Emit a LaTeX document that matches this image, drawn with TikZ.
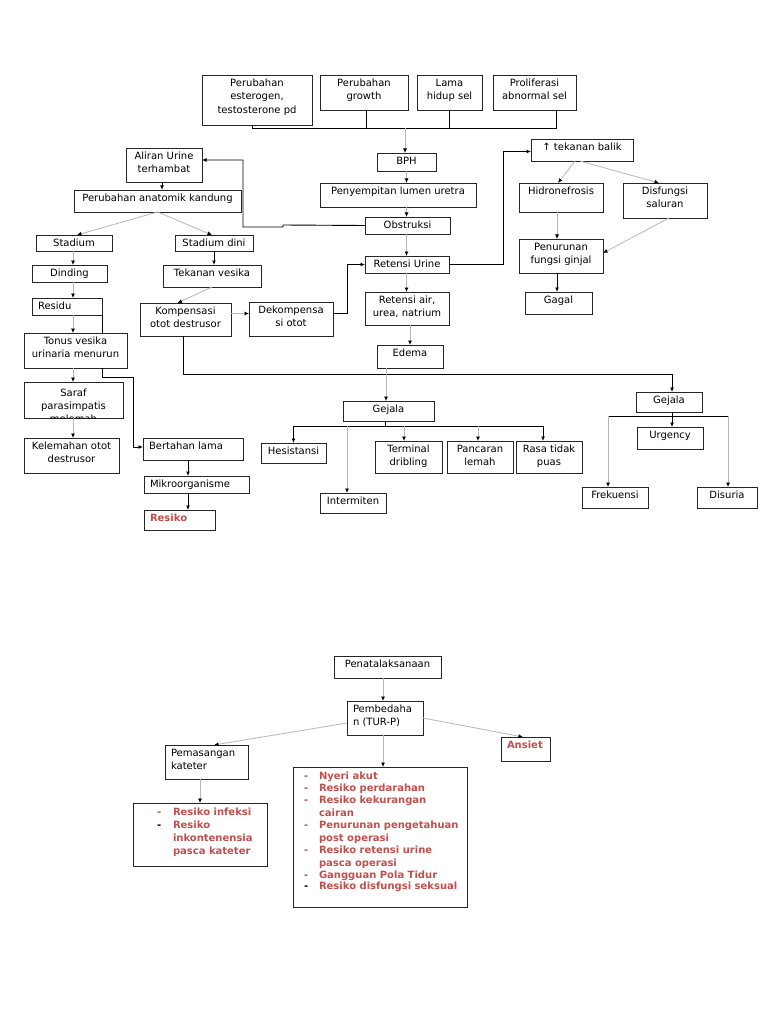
\documentclass[tikz,border=0pt]{standalone}
\usepackage{fontspec}
\setmainfont{DejaVu Sans}
\usetikzlibrary{arrows.meta}
\definecolor{rd}{HTML}{C0504D}
\tikzset{
 box/.style={draw=black!85, line width=0.8pt, inner sep=0pt, outer sep=0pt, fill=white},
 txt/.style={inner sep=0pt, outer sep=0pt, align=center, font=\fontsize{10}{13.3}\selectfont},
 txtl/.style={txt, align=left},
 blk/.style={draw=black, line width=0.9pt},
 gry/.style={draw=black!28, line width=0.8pt},
 arr/.style={-{Latex[length=4.5pt,width=4pt,color=black]}},
 listtxt/.style={inner sep=0pt, outer sep=0pt, align=left, font=\fontsize{10}{11.7}\selectfont\bfseries}
}
\newcommand\bx[6]{%
 \node[box, anchor=north west, minimum width={#4-#2}, minimum height={#5-#3}] (#1) at (#2,#3) {};
 \node[txt, anchor=north] (#1t) at ([yshift=-4pt]#1.north) {#6};}
\newcommand\bxl[6]{%
 \node[box, anchor=north west, minimum width={#4-#2}, minimum height={#5-#3}] (#1) at (#2,#3) {};
 \node[txtl, anchor=north west] (#1t) at ([xshift=6pt,yshift=-4pt]#1.north west) {#6};}
\begin{document}
\begin{tikzpicture}[x=1pt,y=-1pt]
\fill[white] (0,0) rectangle (768,1024);
\useasboundingbox (0,0) rectangle (768,1024);

% top causes
\bx{p1}{202}{75}{312}{125}{Perubahan\\esterogen,\\testosterone pd}
\bx{p2}{320}{75}{408}{110}{Perubahan\\growth}
\bx{p3}{417}{75}{482}{110}{Lama\\hidup sel}
\bx{p4}{493}{75}{576}{110}{Proliferasi\\abnormal sel}

% central column
\bx{bph}{377}{153}{436}{171}{BPH}
\bx{pen}{320}{183}{476}{207}{Penyempitan lumen uretra}
\bx{obs}{365}{217}{450}{234}{Obstruksi}
\bx{ret}{365}{256}{449}{273}{Retensi Urine}
\bx{rair}{365}{292}{449}{325}{Retensi air,\\urea, natrium}
\bx{ede}{377}{345}{443}{368}{Edema}

% left side
\bx{ali}{126}{148}{202}{182}{Aliran Urine\\terhambat}
\bx{ana}{74}{190}{241}{212}{Perubahan anatomik kandung}
\bx{sta}{36}{235}{112}{251}{Stadium}
\bx{sdi}{175}{235}{253}{251}{Stadium dini}
\bx{din}{32}{265}{107}{282}{Dinding}
\bx{tek}{163}{265}{261}{287}{Tekanan vesika}
\bxl{res}{32}{298}{102}{315}{Residu}
\bx{ton}{24}{333}{127}{368}{Tonus vesika\\urinaria menurun}
\node[box, anchor=north west, minimum width=99, minimum height=36] (sar) at (24,382) {};
\begin{scope}
\clip (sar.north west) rectangle (sar.south east);
\node[txt, anchor=north] (sart) at ([yshift=-6.5pt]sar.north) {Saraf\\parasimpatis\\melemah};
\end{scope}
\bx{kel}{24}{438}{119}{473}{Kelemahan otot\\destrusor}
\bx{kom}{140}{303}{231}{336}{Kompensasi\\otot destrusor}
\bx{dek}{249}{302}{333}{336}{Dekompensa\\si otot}
\bxl{ber}{143}{438}{243}{460}{Bertahan lama}
\bxl{mik}{144}{476}{249}{493}{Mikroorganisme}
\bxl{rsk}{144}{510}{215}{530}{{\color{rd}\bfseries Resiko}}

% right side
\bx{tb}{531}{139}{633}{161}{↑ tekanan balik}
\bx{hid}{519}{183}{603}{212}{Hidronefrosis}
\bx{dis}{623}{183}{707}{218}{Disfungsi\\saluran}
\bx{pfg}{519}{239}{603}{273}{Penurunan\\fungsi ginjal}
\bx{gag}{525}{292}{592}{314}{Gagal}

% symptoms
\bx{gj1}{343}{401}{434}{421}{Gejala}
\bx{hes}{261}{443}{326}{463}{Hesistansi}
\bx{int}{320}{493}{386}{513}{Intermiten}
\bx{ter}{375}{441}{442}{473}{Terminal\\dribling}
\bx{pan}{447}{441}{513}{473}{Pancaran\\lemah}
\bx{rasa}{516}{441}{582}{473}{Rasa tidak\\puas}
\bx{gj2}{636}{392}{702}{412}{Gejala}
\bx{urg}{637}{427}{703}{449}{Urgency}
\bx{fre}{582}{487}{648}{508}{Frekuensi}
\bx{dsu}{697}{487}{757}{508}{Disuria}

% management
\bx{pnt}{334}{656}{441}{678}{Penatalaksanaan}
\bxl{pmb}{347}{701}{423}{735}{Pembedaha\\n (TUR-P)}
\bxl{pms}{165}{745}{248}{779}{Pemasangan\\kateter}
\bxl{ans}{501}{737}{550}{761}{{\color{rd}\bfseries Ansiet}}
\node[box, anchor=north west, minimum width=174, minimum height=140] (big) at (293,767) {};
\node[box, anchor=north west, minimum width=134, minimum height=63] (sml) at (133,803) {};
\node[listtxt, font=\fontsize{10}{13}\selectfont\bfseries, anchor=north west] (smlt) at (157,808) {%
\makebox[16pt][l]{\color{rd}-}{\color{rd}Resiko infeksi}\\
\makebox[16pt][l]{-}{\color{rd}Resiko}\\
\hspace*{16pt}{\color{rd}inkontenensia}\\
\hspace*{16pt}{\color{rd}pasca kateter}};
\node[listtxt, anchor=north west] (bigt) at (304,772) {%
\makebox[15pt][l]{\color{rd}-}{\color{rd}Nyeri akut}\\
\makebox[15pt][l]{\color{rd}-}{\color{rd}Resiko perdarahan}\\
\makebox[15pt][l]{\color{rd}-}{\color{rd}Resiko kekurangan}\\[1.6pt]
\hspace*{15pt}{\color{rd}cairan}\\
\makebox[15pt][l]{\color{rd}-}{\color{rd}Penurunan pengetahuan}\\[1.6pt]
\hspace*{15pt}{\color{rd}post operasi}\\
\makebox[15pt][l]{\color{rd}-}{\color{rd}Resiko retensi urine}\\[1.6pt]
\hspace*{15pt}{\color{rd}pasca operasi}\\
\makebox[15pt][l]{\color{rd}-}{\color{rd}Gangguan Pola Tidur}\\
\makebox[15pt][l]{-}{\color{rd}Resiko disfungsi seksual}};

% ---------- connectors ----------
\coordinate (bus1) at (405,128);
\draw[blk] ([xshift=-5pt]p1.south) |- (bus1);
\draw[blk] ([xshift=2pt]p2.south) |- (bus1);
\draw[blk] (p3.south) |- (bus1);
\draw[blk] ([xshift=22pt]p4.south) |- (bus1);
\draw[gry,arr] (bus1) -- (bus1 |- bph.north);

\draw[gry,arr] (bph.south) -- (bph.south |- pen.north);
\draw[gry,arr] (bph.south |- pen.south) -- (bph.south |- obs.north);
\draw[gry,arr] (bph.south |- obs.south) -- (bph.south |- ret.north);
\draw[gry,arr] (bph.south |- ret.south) -- (bph.south |- rair.north);
\draw[gry,arr] ([xshift=3pt]rair.south) -- ([xshift=3pt]rair.south |- ede.north);

\draw[blk,arr] (obs.west) -- (283,225) -- (283,227) -- (243,227) -- (243,160) -- ([yshift=5pt]ali.east);
\draw[blk,arr] ([xshift=-2pt]ali.south) -- ([xshift=-2pt]ali.south |- ana.north);
\draw[gry,arr] (ana.south) -- ([xshift=3pt]sta.north);
\draw[gry,arr] (ana.south) -- ([xshift=-2pt]sdi.north);
\draw[gry,arr] ([xshift=-1pt]sta.south) -- ([xshift=-1pt]sta.south |- din.north);
\draw[gry,arr] ([xshift=-1pt]sta.south |- din.south) -- ([xshift=-1pt]sta.south |- res.north);
\draw[gry,arr] ([xshift=-1pt]sta.south |- res.south) -- ([xshift=-1pt]sta.south |- ton.north);
\draw[blk] (res.south east) -- (res.south east |- ton.north);
\draw[gry,arr] ([xshift=-1pt]sta.south |- ton.south) -- ([xshift=-1pt]sta.south |- sar.north);
\draw[gry,arr] ([xshift=-1pt]sta.south |- sar.south) -- ([xshift=-1pt]sta.south |- kel.north);
\draw[blk,arr] (res.south east |- ton.south) -- ++(0,9) -- ++(31,0) -- ++(0,70) -- ([yshift=2pt]ber.west);
\draw[blk,arr] ([xshift=-5pt]ber.south) -- ([xshift=-5pt]ber.south |- mik.north);
\draw[blk,arr] ([xshift=-5pt]ber.south |- mik.south) -- ([xshift=-5pt]ber.south |- rsk.north);

\draw[blk,arr] (sdi.south) -- (sdi.south |- tek.north);
\draw[gry,arr] (tek.south) -- ([xshift=-8pt]kom.north);
\draw[gry,arr] ([yshift=6pt]kom.east) -- ([yshift=6pt]kom.east -| dek.west);
\draw[blk,arr] ([yshift=6pt]dek.east) -- ++(14,0) |- (ret.west);
\draw[blk,arr] ([xshift=-2.5pt]kom.south) -- ++(0,38) -| ([xshift=3pt]gj2.north);

\draw[blk,arr] (ret.east) -- ++(54,0) |- ([yshift=-1.5pt]tb.west);
\draw[gry,arr] ([xshift=-7pt]tb.south) -- ([xshift=-3pt]hid.north);
\draw[gry,arr] ([xshift=-2pt]tb.south) -- ([xshift=-6pt]dis.north);
\draw[gry,arr] ([xshift=-4pt]hid.south) -- ([xshift=-4pt]hid.south |- pfg.north);
\draw[gry,arr] ([xshift=4pt]dis.south) -- ([yshift=3pt]pfg.east);
\draw[blk,arr] ([xshift=-4pt]pfg.south) -- ([xshift=-4pt]pfg.south |- gag.north);

\draw[gry,arr] ([xshift=-24pt]ede.south) -- ([xshift=-24pt]ede.south |- gj1.north);
\coordinate (b2) at (385,426);
\draw[blk] ([xshift=-3.5pt]gj1.south) -- (b2);
\draw[blk,arr] (b2) -| (hes.north);
\draw[blk,arr] (b2) -| ([xshift=-6pt]rasa.north);
\draw[gry,arr] ([xshift=-6pt]int.north |- b2) -- ([xshift=-6pt]int.north);
\draw[gry,arr] ([xshift=-4.5pt]ter.north |- b2) -- ([xshift=-4.5pt]ter.north);
\draw[gry,arr] ([xshift=-2pt]pan.north |- b2) -- ([xshift=-2pt]pan.north);

\coordinate (b3) at (672,416);
\draw[blk] ([xshift=3pt]gj2.south) -- (b3);
\draw[blk] ([xshift=-7pt]fre.north |- b3) -- ([xshift=1pt]dsu.north |- b3);
\draw[blk,arr] (b3) -- (b3 |- urg.north);
\draw[gry,arr] ([xshift=-7pt]fre.north |- b3) -- ([xshift=-7pt]fre.north);
\draw[gry,arr] ([xshift=1pt]dsu.north |- b3) -- ([xshift=1pt]dsu.north);

\draw[gry,arr] ([xshift=-4.5pt]pnt.south) -- ([xshift=-4.5pt]pnt.south |- pmb.north);
\draw[gry,arr] ([yshift=-5pt]pmb.west) -- ([xshift=7.5pt]pms.north);
\draw[gry,arr] (pmb.east) -- ([xshift=-2.5pt]ans.north);
\draw[gry,arr] ([xshift=-2pt]pmb.south) -- ([xshift=-2pt]pmb.south |- big.north);
\draw[gry,arr] ([xshift=-6.5pt]pms.south) -- ([xshift=-6.5pt]pms.south |- sml.north);
\end{tikzpicture}
\end{document}
